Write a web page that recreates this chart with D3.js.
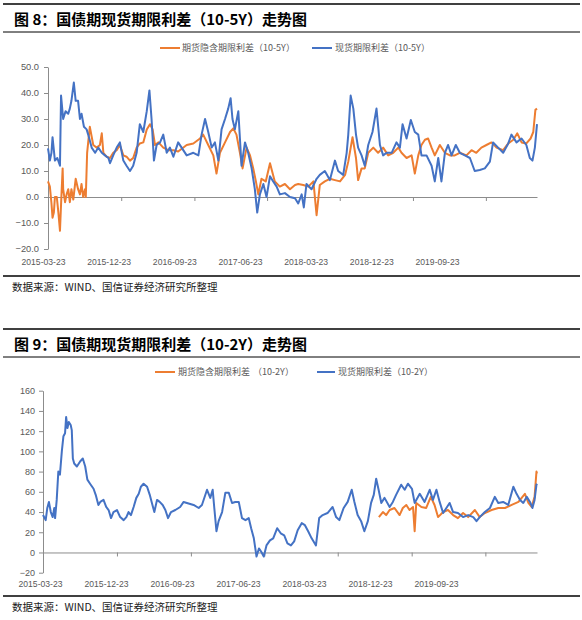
<!DOCTYPE html>
<html><head><meta charset="utf-8">
<script src="https://cdn.jsdelivr.net/npm/d3@7/dist/d3.min.js"></script>
<style>body{margin:0;background:#fff}svg{display:block}</style>
</head><body>
<svg id="c" width="582" height="620"></svg>
<script>
// ---------- data ----------
const xTickLabels = ["2015-03-23","2015-12-23","2016-09-23","2017-06-23","2018-03-23","2018-12-23","2019-09-23"];
const y1Ticks = [-20,-10,0,10,20,30,40,50];
const y2Ticks = [-20,0,20,40,60,80,100,120,140,160];
const seriesNames1 = ["期货隐含期限利差（10-5Y）","现货期限利差（10-5Y）"];
const seriesNames2 = ["期货隐含期限利差","（10-2Y）","现货期限利差（10-2Y）"];

// Chart 1 (10-5Y) spot spread
const c1SpotDates = ["2015-03-23","2015-03-30","2015-04-05","2015-04-09","2015-04-18","2015-04-27","2015-05-07","2015-05-11","2015-05-19","2015-05-28","2015-06-07","2015-06-13","2015-06-19","2015-06-28","2015-07-05","2015-07-14","2015-07-21","2015-07-27","2015-08-05","2015-08-15","2015-08-21","2015-09-03","2015-09-16","2015-09-28","2015-10-11","2015-10-23","2015-11-05","2015-11-11","2015-11-23","2015-12-06","2015-12-18","2015-12-31","2016-01-12","2016-01-25","2016-02-06","2016-02-19","2016-03-02","2016-03-15","2016-03-28","2016-04-07","2016-04-15","2016-04-24","2016-05-04","2016-05-17","2016-05-29","2016-06-11","2016-06-23","2016-07-06","2016-07-24",
"2016-08-25","2016-09-19","2016-10-08","2016-10-20","2016-11-02","2016-11-14","2016-11-27","2016-12-09","2016-12-22","2017-01-03","2017-01-16","2017-01-28","2017-02-06","2017-02-13","2017-02-22","2017-03-07","2017-03-19","2017-04-01","2017-04-13","2017-04-26","2017-05-08","2017-05-17","2017-05-27","2017-06-09","2017-06-21","2017-07-04","2017-07-16","2017-07-29","2017-08-10","2017-08-29","2017-09-17","2017-10-06","2017-10-18","2017-10-31","2017-11-08","2017-11-18","2017-12-07","2017-12-26","2018-01-07","2018-01-26","2018-02-14","2018-03-05","2018-03-17","2018-04-05","2018-04-18","2018-04-24","2018-05-03","2018-05-13","2018-05-23","2018-05-31","2018-06-13","2018-06-25","2018-07-08","2018-07-24","2018-08-08","2018-08-21","2018-09-02","2018-09-15","2018-10-04","2018-10-22","2018-11-04","2018-11-14","2018-11-29","2018-12-15","2018-12-30","2019-01-12","2019-01-24","2019-02-12","2019-03-03","2019-03-15","2019-03-28","2019-04-09","2019-04-22","2019-05-04","2019-05-17","2019-06-02","2019-06-17","2019-07-06","2019-07-25","2019-08-12","2019-08-31","2019-09-19","2019-10-08","2019-10-20","2019-11-08","2019-11-27","2019-12-16","2019-12-28","2020-01-16","2020-02-04","2020-02-22","2020-03-06","2020-03-16","2020-03-25","2020-04-02"];
const c1SpotValues = [18.7,14,17,23,14,15,12,39,30,33,32,34,37,44,37,37,30,32,27,26,24,19,17,19,17,16,15,13,16,19,21,14,12,10,12,17,28,25,33,41,30,14,20,21,24,17,19,15.5,21,
16,17,16,24,30,25,19,21,14,26,30,34,38,30,26,33,12,21,17,11,3,-6,1,5,0,8,6,4,1,1.5,0,-0.5,-2.5,1,-4,5,3,7,8.5,10,6.5,14,10,8.5,17,24,39,34,24,19,16,12,20,25,34,20,16,17,17,21,19,28,22.5,29.6,25,24,16,16,12,6,15,6,17,20,16,20,17,16,15,10,10.4,11,13.6,21,19,17,20.6,24,21,22.5,20,15,14,19,28];

// Chart 1 (10-5Y) futures implied spread
const c1FutDates = ["2015-03-23","2015-03-30","2015-04-05","2015-04-09","2015-04-14","2015-04-18","2015-04-25","2015-05-01","2015-05-07","2015-05-11","2015-05-17","2015-05-19","2015-05-26","2015-06-01","2015-06-07","2015-06-13","2015-06-19","2015-06-26","2015-07-05","2015-07-14","2015-07-21","2015-07-27","2015-08-02","2015-08-09","2015-08-12","2015-08-17","2015-08-21","2015-08-27","2015-09-09","2015-09-22","2015-10-04","2015-10-11","2015-10-17","2015-10-29","2015-11-11","2015-11-23","2015-12-06","2015-12-18","2015-12-31","2016-01-12","2016-01-25","2016-02-06","2016-02-19","2016-03-02","2016-03-15","2016-03-28","2016-04-09","2016-04-19","2016-04-28","2016-05-11","2016-05-29","2016-06-17","2016-07-06","2016-07-24",
"2016-08-25","2016-09-19","2016-10-14","2016-10-26","2016-11-14","2016-12-03","2016-12-15","2016-12-28","2017-01-16","2017-02-04","2017-02-16","2017-02-28","2017-03-13","2017-03-23","2017-04-07","2017-04-20","2017-05-02","2017-05-12","2017-05-21","2017-06-02","2017-06-18","2017-07-04","2017-07-22","2017-08-10","2017-08-29","2017-09-17","2017-10-06","2017-10-18","2017-11-06","2017-11-25","2017-12-14","2017-12-26","2018-01-07","2018-01-26","2018-02-14","2018-03-05","2018-03-24","2018-04-12","2018-04-24","2018-05-10","2018-05-23","2018-05-31","2018-06-13","2018-06-25","2018-07-08","2018-07-27","2018-08-14","2018-09-02","2018-09-21","2018-10-10","2018-10-29","2018-11-10","2018-11-29","2018-12-18","2018-12-30","2019-01-12","2019-01-24","2019-02-06","2019-02-18","2019-03-03","2019-03-15","2019-04-03","2019-04-22","2019-05-11","2019-05-29","2019-06-17","2019-07-12","2019-07-31","2019-08-18","2019-09-06","2019-09-25","2019-10-14","2019-11-02","2019-11-27","2019-12-16","2020-01-04","2020-01-19","2020-02-04","2020-02-22","2020-03-09","2020-03-19","2020-03-27","2020-04-02"];
const c1FutValues = [6,4,-2.4,-8,-6,0,0,-6,-13,-3,11,3,-2,1,3,-2,3,-1,7,3,1,5,0,3,0,17,21,27,20,19,20,24.5,17,15.5,15,17,18,20,16,15.5,14,15,19,20.6,21,26,28,26,20,21,19,18,18,17.5,
20,20.6,22.5,24,20,16,9,17,21,25,26.4,24,17,11,19,16,11,6,1,7,6,13,6,4,5,3,4.6,5,4.6,4,6,-7,4.6,6,7,6.5,6,8.5,13.6,23,15,6.5,11,11,17,19,17,19,16,17,19,17,15,16,9,16,20,22,22.5,19,16,20,17,16,16,17,16,18,17,19,20,21,19,18,20.6,22,24.5,21,20.6,22.5,25,33.5,34];

// Chart 2 (10-2Y) spot spread
const c2SpotDates = ["2015-03-23","2015-04-02","2015-04-08","2015-04-14","2015-04-21","2015-04-28","2015-05-04","2015-05-07","2015-05-13","2015-05-19","2015-05-25","2015-06-01","2015-06-07","2015-06-13","2015-06-17","2015-06-22","2015-06-27","2015-07-04","2015-07-08","2015-07-12","2015-07-17","2015-07-27","2015-08-08","2015-08-18","2015-08-27","2015-09-04","2015-09-14","2015-09-27","2015-10-05","2015-10-15","2015-10-22","2015-11-03","2015-11-13","2015-11-22","2015-12-01","2015-12-10","2015-12-23","2016-01-04","2016-01-17","2016-01-27","2016-02-04","2016-02-13","2016-02-23","2016-03-04","2016-03-13","2016-03-21","2016-03-31","2016-04-13","2016-04-23","2016-05-01","2016-05-10","2016-05-20","2016-05-30","2016-06-10","2016-06-20","2016-06-30","2016-07-11","2016-07-27","2016-08-14","2016-08-27",
"2016-09-08","2016-10-03","2016-10-22","2016-11-03","2016-11-22","2016-12-04","2016-12-13","2016-12-19","2016-12-27","2017-01-04","2017-01-17","2017-01-29","2017-02-11","2017-02-23","2017-03-07","2017-03-20","2017-04-01","2017-04-14","2017-04-26","2017-05-05","2017-05-15","2017-05-25","2017-06-03","2017-06-11","2017-06-21","2017-07-01","2017-07-14","2017-07-26","2017-08-10","2017-08-23","2017-09-05","2017-09-17","2017-09-30","2017-10-12","2017-10-25","2017-11-09","2017-11-21","2017-12-03","2017-12-16","2018-01-01","2018-01-13","2018-01-26","2018-02-13","2018-03-04","2018-03-17","2018-03-29","2018-04-14","2018-04-29","2018-05-14","2018-05-24","2018-06-05","2018-06-18","2018-06-30","2018-07-13","2018-07-25","2018-08-04","2018-08-13","2018-08-22","2018-09-01","2018-09-13","2018-10-02","2018-10-14","2018-10-26","2018-11-14","2018-11-27","2018-12-09","2018-12-24","2019-01-03","2019-01-22","2019-02-09","2019-02-28","2019-03-12","2019-03-25","2019-04-06","2019-04-19","2019-05-01","2019-05-13","2019-05-26","2019-06-13","2019-07-02","2019-07-21","2019-08-09","2019-08-21","2019-09-02","2019-09-21","2019-10-10","2019-10-28","2019-11-10","2019-11-28","2019-12-17","2020-01-05","2020-01-17","2020-01-30","2020-02-11","2020-02-24","2020-03-07","2020-03-16","2020-03-24","2020-03-31","2020-04-02"];
const c2SpotValues = [37,32,44,50,40,35,44,34,52,80,77,100,115,118,134,123,129,126,121,93,88,85,90,93,85,72,68,63,57,47,50,52,45,42,34,40,42,35,32,35,40,37,45,54,58,65,68,65,57,49,40,52,50,47,42,34,40,42,45,50,
49,47,44,47,62,54,62,44,21,31,40,59,59,49,50,50,34,32,34,24,14,-4,4,1,-4,7,12,14,24,19,17,9,7,11,22,29,27,21,14,7,34,37,39,45,35,32,44,50,62,50,37,31,21,31,49,57,73,62,49,54,45,50,57,67,62,68,63,49,58,50,62,52,62,50,39,44,49,40,39,35,37,35,31,35,40,44,55,49,50,47,65,58,52,49,55,50,44,52,67,68];

// Chart 2 (10-2Y) futures implied spread
const c2FutDates = ["2018-08-23","2018-09-07","2018-09-19","2018-10-02","2018-10-20","2018-11-08","2018-11-20","2018-12-03","2018-12-15","2018-12-28","2019-01-03","2019-01-09","2019-01-28","2019-02-15","2019-03-04","2019-03-18","2019-03-31","2019-04-19","2019-05-07","2019-05-26","2019-06-13","2019-07-02","2019-07-21","2019-08-15","2019-09-02","2019-09-21","2019-10-16","2019-11-10","2019-12-05","2019-12-30","2020-01-24","2020-02-17","2020-03-01","2020-03-13","2020-03-24","2020-03-31","2020-04-02"];
const c2FutValues = [35,40,37,42,44,37,44,47,42,45,21,49,45,44,55,47,35,40,42,37,34,39,35,42,35,39,42,44,44,47,50,58,49,45,55,80,78];

// ---------- drawing ----------
const parse = d3.timeParse("%Y-%m-%d");
const svg = d3.select("#c");
const ORANGE = "#ED7D31", BLUE = "#4472C4", GREY_TXT = "#595959", AXIS = "#8c8c8c";
const FONT = "'Liberation Sans', Arial, sans-serif";
const CJK = "'Noto Sans CJK SC', sans-serif";

function drawChart(o) {
  // rules + title
  svg.append("line").attr("x1", 3).attr("x2", 580).attr("y1", o.ruleTop).attr("y2", o.ruleTop)
    .attr("stroke", "#000").attr("stroke-width", 1.5);
  svg.append("line").attr("x1", 3).attr("x2", 580).attr("y1", o.ruleMid).attr("y2", o.ruleMid)
    .attr("stroke", "#000").attr("stroke-width", 1);
  svg.append("text").attr("x", 14).attr("y", o.titleY).text(o.title)
    .attr("font-family", CJK).attr("font-weight", 700).attr("font-size", 15).attr("fill", "#000");
  svg.append("line").attr("x1", 3).attr("x2", 580).attr("y1", o.ruleBottom).attr("y2", o.ruleBottom)
    .attr("stroke", "#000").attr("stroke-width", 1.5);
  svg.append("text").attr("x", 12).attr("y", o.sourceY).text("数据来源：WIND、国信证券经济研究所整理")
    .attr("font-family", CJK).attr("font-size", 10.5).attr("fill", "#1a1a1a");

  const x = d3.scaleTime().domain([parse("2015-03-23"), parse("2020-04-02")]).range(o.xRange);
  const y = d3.scaleLinear().domain(o.yDomain).range(o.yRange);

  // y axis
  const ya = svg.append("g").attr("transform", `translate(${o.xRange[0]},0)`)
    .call(d3.axisLeft(y).tickValues(o.yTicks).tickSize(4).tickSizeOuter(0).tickPadding(o.yPad)
      .tickFormat(o.yFmt));
  ya.select(".domain").attr("stroke", AXIS);
  ya.selectAll(".tick line").attr("stroke", AXIS);
  ya.selectAll("text").attr("font-family", FONT).attr("font-size", o.yFont).attr("fill", GREY_TXT);

  // x axis (at zero) with tick marks only
  const xa = svg.append("g").attr("transform", `translate(0,${y(0)})`)
    .call(d3.axisBottom(x).tickValues(xTickLabels.map(parse)).tickSize(4).tickSizeOuter(0).tickFormat(""));
  xa.select(".domain").attr("stroke", AXIS);
  xa.selectAll(".tick line").attr("stroke", AXIS);

  // category-style labels along the bottom
  const lab = d3.scalePoint().domain(xTickLabels).range(o.labRange);
  const la = svg.append("g").attr("transform", `translate(0,${o.labY})`)
    .call(d3.axisBottom(lab).tickSize(0).tickPadding(0));
  la.select(".domain").remove();
  la.selectAll("text").attr("font-family", FONT).attr("font-size", 8.6).attr("fill", GREY_TXT);

  const line = d3.line().x(d => x(d[0])).y(d => y(d[1]));
  const fut = d3.zip(o.futDates.map(parse), o.futValues);
  const spot = d3.zip(o.spotDates.map(parse), o.spotValues);
  svg.append("path").datum(fut).attr("d", line).attr("fill", "none")
    .attr("stroke", ORANGE).attr("stroke-width", 2).attr("stroke-linejoin", "round");
  svg.append("path").datum(spot).attr("d", line).attr("fill", "none")
    .attr("stroke", BLUE).attr("stroke-width", 2).attr("stroke-linejoin", "round");

  // legend
  const lg = svg.append("g").attr("font-family", CJK).attr("font-size", 9).attr("fill", GREY_TXT);
  o.legend.forEach(it => {
    if (it.line) lg.append("line").attr("x1", it.line[0]).attr("x2", it.line[1])
      .attr("y1", o.legendY).attr("y2", o.legendY).attr("stroke", it.color).attr("stroke-width", 2);
    lg.append("text").attr("x", it.tx).attr("y", o.legendY + 3.3).text(it.text);
  });
}

drawChart({
  title: "图 8：国债期现货期限利差（10-5Y）走势图",
  ruleTop: 4, ruleMid: 32, titleY: 25, ruleBottom: 276, sourceY: 291,
  xRange: [48, 537], yRange: [249, 67], yDomain: [-20, 50], yTicks: y1Ticks,
  yFmt: d3.format(".1f"), yPad: 5, yFont: 9.3,
  labRange: [43, 437], labY: 259,
  legendY: 48,
  legend: [
    {line: [160, 180], color: ORANGE, tx: 182, text: seriesNames1[0]},
    {line: [312, 332], color: BLUE, tx: 335, text: seriesNames1[1]}
  ],
  futDates: c1FutDates, futValues: c1FutValues, spotDates: c1SpotDates, spotValues: c1SpotValues
});

drawChart({
  title: "图 9：国债期现货期限利差（10-2Y）走势图",
  ruleTop: 329, ruleMid: 357, titleY: 350, ruleBottom: 596, sourceY: 611,
  xRange: [43, 537], yRange: [572.7, 390.7], yDomain: [-20, 160], yTicks: y2Ticks,
  yFmt: d3.format("d"), yPad: 4, yFont: 9,
  labRange: [40, 436], labY: 581,
  legendY: 372,
  legend: [
    {line: [155, 175], color: ORANGE, tx: 178, text: seriesNames2[0]},
    {tx: 253, text: seriesNames2[1]},
    {line: [317, 335], color: BLUE, tx: 338, text: seriesNames2[2]}
  ],
  futDates: c2FutDates, futValues: c2FutValues, spotDates: c2SpotDates, spotValues: c2SpotValues
});
</script>
</body></html>
